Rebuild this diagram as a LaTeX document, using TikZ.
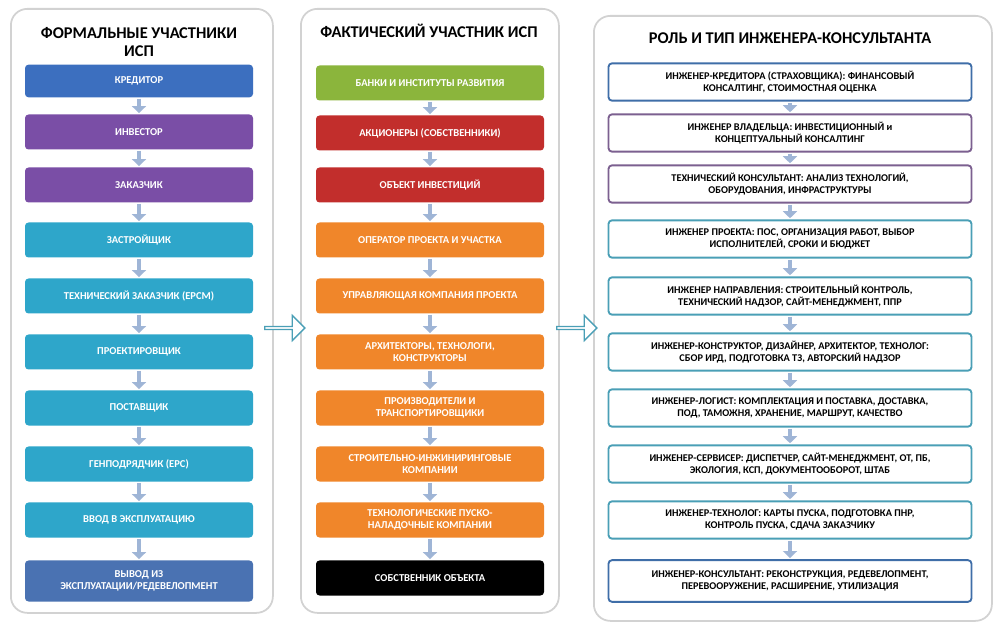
\documentclass[tikz,border=0pt]{standalone}
\usepackage{fontspec}
\setmainfont{Carlito}
\usetikzlibrary{arrows.meta,shapes.arrows}

\definecolor{cblue}{HTML}{3C6FBF}
\definecolor{cpurple}{HTML}{7A4EA6}
\definecolor{cteal}{HTML}{2EA6CA}
\definecolor{csteel}{HTML}{4A72B2}
\definecolor{cgreen}{HTML}{8BB53C}
\definecolor{cred}{HTML}{C22E2C}
\definecolor{corange}{HTML}{F0862A}
\definecolor{bblue}{HTML}{3F6EA8}
\definecolor{bpurple}{HTML}{7C6090}
\definecolor{bteal}{HTML}{4A9FB6}
\definecolor{gaparrow}{HTML}{9FB5D6}

\tikzset{
  panel/.style={draw=gray!35, line width=1.5pt, fill=white, rounded corners=14pt, anchor=north west, inner sep=0pt},
  title/.style={font=\bfseries\fontsize{14}{15}\selectfont, align=center},
  colbox/.style={fill=#1, text=white, rounded corners=3pt, minimum width=228*0.03cm, minimum height=1.05cm,
                 font=\bfseries\fontsize{9}{10}\selectfont, align=center, inner sep=1pt},
  rolebox/.style={draw=#1, line width=1.6pt, fill=white, rounded corners=3pt, minimum width=363*0.03cm,
                 minimum height=1.12cm, font=\bfseries\fontsize{8.8}{10.5}\selectfont, align=center, inner sep=1pt},
  gap/.style={draw=gaparrow, line width=4pt, -{Triangle[length=6pt,width=12pt]}, shorten <=1pt, shorten >=1pt},
  bigarrow/.style={single arrow, draw=bteal, line width=1.2pt, fill=white, minimum height=1.2cm,
                 minimum width=0.75cm, single arrow head extend=0.15cm, inner sep=0pt}
}

\begin{document}
\begin{tikzpicture}[x=0.03cm, y=-0.03cm]
  \useasboundingbox (0,0) rectangle (999,626);

  % Panels
  \node[panel, minimum width=262*0.03cm, minimum height=604*0.03cm] (PL) at (10,8) {};
  \node[panel, minimum width=258*0.03cm, minimum height=604*0.03cm] (PM) at (300,8) {};
  \node[panel, minimum width=398*0.03cm, minimum height=605*0.03cm] (PR) at (593,15) {};

  % Titles
  \node[title] (TL) at (139,42) {ФОРМАЛЬНЫЕ УЧАСТНИКИ\\ИСП};
  \node[title] (TM) at (429,31) {ФАКТИЧЕСКИЙ УЧАСТНИК ИСП};
  \node[title] (TR) at (790,38) {РОЛЬ И ТИП ИНЖЕНЕРА-КОНСУЛЬТАНТА};

  % Formal participants
  \node[colbox=cblue, minimum height=0.98cm] (L1) at (139,81) {КРЕДИТОР};
  \node[colbox=cpurple] (L2) at (139,132) {ИНВЕСТОР};
  \node[colbox=cpurple] (L3) at (139,185) {ЗАКАЗЧИК};
  \node[colbox=cteal] (L4) at (139,240) {ЗАСТРОЙЩИК};
  \node[colbox=cteal] (L5) at (139,296) {ТЕХНИЧЕСКИЙ ЗАКАЗЧИК (EPCM)};
  \node[colbox=cteal] (L6) at (139,352) {ПРОЕКТИРОВЩИК};
  \node[colbox=cteal] (L7) at (139,408) {ПОСТАВЩИК};
  \node[colbox=cteal] (L8) at (139,464) {ГЕНПОДРЯДЧИК (EPC)};
  \node[colbox=cteal] (L9) at (139,520) {ВВОД В ЭКСПЛУАТАЦИЮ};
  \node[colbox=csteel, minimum height=1.23cm] (L10) at (139,581) {ВЫВОД ИЗ\\ЭКСПЛУАТАЦИИ/РЕДЕВЕЛОПМЕНТ};

  % Actual participants
  \node[colbox=cgreen] (M1) at (430,83) {БАНКИ И ИНСТИТУТЫ РАЗВИТИЯ};
  \node[colbox=cred] (M2) at (430,133) {АКЦИОНЕРЫ (СОБСТВЕННИКИ)};
  \node[colbox=cred] (M3) at (430,185) {ОБЪЕКТ ИНВЕСТИЦИЙ};
  \node[colbox=corange] (M4) at (430,240) {ОПЕРАТОР ПРОЕКТА И УЧАСТКА};
  \node[colbox=corange] (M5) at (430,296) {УПРАВЛЯЮЩАЯ КОМПАНИЯ ПРОЕКТА};
  \node[colbox=corange] (M6) at (430,352) {АРХИТЕКТОРЫ, ТЕХНОЛОГИ,\\КОНСТРУКТОРЫ};
  \node[colbox=corange] (M7) at (430,408) {ПРОИЗВОДИТЕЛИ И\\ТРАНСПОРТИРОВЩИКИ};
  \node[colbox=corange] (M8) at (430,464) {СТРОИТЕЛЬНО-ИНЖИНИРИНГОВЫЕ\\КОМПАНИИ};
  \node[colbox=corange] (M9) at (430,520) {ТЕХНОЛОГИЧЕСКИЕ ПУСКО-\\НАЛАДОЧНЫЕ КОМПАНИИ};
  \node[colbox=black] (M10) at (430,578) {СОБСТВЕННИК ОБЪЕКТА};

  % Engineer roles
  \node[rolebox=bblue] (R1) at (790,82) {ИНЖЕНЕР-КРЕДИТОРА (СТРАХОВЩИКА): ФИНАНСОВЫЙ\\КОНСАЛТИНГ, СТОИМОСТНАЯ ОЦЕНКА};
  \node[rolebox=bpurple] (R2) at (790,133) {ИНЖЕНЕР ВЛАДЕЛЬЦА: ИНВЕСТИЦИОННЫЙ и\\КОНЦЕПТУАЛЬНЫЙ КОНСАЛТИНГ};
  \node[rolebox=bpurple] (R3) at (790,184) {ТЕХНИЧЕСКИЙ КОНСУЛЬТАНТ: АНАЛИЗ ТЕХНОЛОГИЙ,\\ОБОРУДОВАНИЯ, ИНФРАСТРУКТУРЫ};
  \node[rolebox=bteal] (R4) at (790,239) {ИНЖЕНЕР ПРОЕКТА: ПОС, ОРГАНИЗАЦИЯ РАБОТ, ВЫБОР\\ИСПОЛНИТЕЛЕЙ, СРОКИ И БЮДЖЕТ};
  \node[rolebox=bteal] (R5) at (790,296) {ИНЖЕНЕР НАПРАВЛЕНИЯ: СТРОИТЕЛЬНЫЙ КОНТРОЛЬ,\\ТЕХНИЧЕСКИЙ НАДЗОР, САЙТ-МЕНЕДЖМЕНТ, ППР};
  \node[rolebox=bteal] (R6) at (790,352) {ИНЖЕНЕР-КОНСТРУКТОР, ДИЗАЙНЕР, АРХИТЕКТОР, ТЕХНОЛОГ:\\СБОР ИРД, ПОДГОТОВКА ТЗ, АВТОРСКИЙ НАДЗОР};
  \node[rolebox=bteal] (R7) at (790,408) {ИНЖЕНЕР-ЛОГИСТ: КОМПЛЕКТАЦИЯ И ПОСТАВКА, ДОСТАВКА,\\ПОД, ТАМОЖНЯ, ХРАНЕНИЕ, МАРШРУТ, КАЧЕСТВО};
  \node[rolebox=bteal] (R8) at (790,464) {ИНЖЕНЕР-СЕРВИСЕР: ДИСПЕТЧЕР, САЙТ-МЕНЕДЖМЕНТ, ОТ, ПБ,\\ЭКОЛОГИЯ, КСП, ДОКУМЕНТООБОРОТ, ШТАБ};
  \node[rolebox=bteal] (R9) at (790,520) {ИНЖЕНЕР-ТЕХНОЛОГ: КАРТЫ ПУСКА, ПОДГОТОВКА ПНР,\\КОНТРОЛЬ ПУСКА, СДАЧА ЗАКАЗЧИКУ};
  \node[rolebox=bblue, minimum height=1.25cm] (R10) at (790,581) {ИНЖЕНЕР-КОНСУЛЬТАНТ: РЕКОНСТРУКЦИЯ, РЕДЕВЕЛОПМЕНТ,\\ПЕРЕВООРУЖЕНИЕ, РАСШИРЕНИЕ, УТИЛИЗАЦИЯ};

  % Arrows inside the columns
  \foreach \i [evaluate=\i as \j using int(\i+1)] in {1,...,9} {
    \draw[gap] (L\i) -- (L\j);
    \draw[gap] (M\i) -- (M\j);
    \draw[gap] (R\i) -- (R\j);
  }

  % Arrows between the panels
  \node[bigarrow] (A1) at (284,328) {};
  \node[bigarrow] (A2) at (576,328) {};
\end{tikzpicture}
\end{document}
